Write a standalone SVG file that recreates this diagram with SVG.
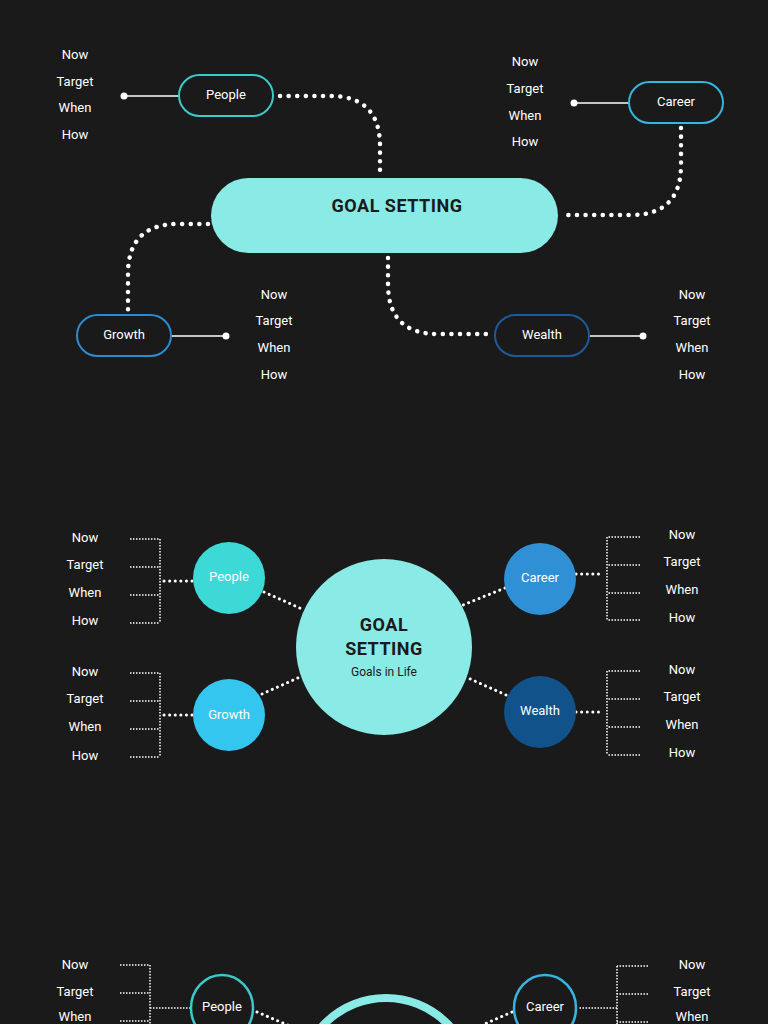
<svg xmlns="http://www.w3.org/2000/svg" width="768" height="1024" viewBox="0 0 768 1024">
<style>
text{font-family:Roboto,"Liberation Sans",sans-serif;fill:#fff;text-anchor:middle;dominant-baseline:middle}
.l{font-size:13px}
.pill{fill:#1a1a1a;stroke-width:2}
.big{stroke:#fff;stroke-width:4.5;stroke-linecap:round;stroke-dasharray:0.1 8.5;fill:none}
.sm{stroke:#fff;stroke-width:1.5;fill:none;stroke-dasharray:1.5 1.5}
.md{stroke:#fff;stroke-width:3;stroke-linecap:round;stroke-dasharray:0.1 5.5;fill:none}
.ln{stroke:#fff;stroke-width:1.5}
.dk{fill:#1a1a1a;font-weight:bold}
</style>
<rect width="768" height="1024" fill="#1a1a1a"/>
<g id="connectors">
<path class="big" d="M280 96 H330 Q380 96 380 146 V174"/>
<path class="big" d="M681 128 V165 Q681 215 631 215 H562"/>
<path class="big" d="M208 224 H178 Q128 224 128 274 V311"/>
<path class="big" d="M388 258 V284 Q388 334 438 334 H490"/>
<line class="ln" x1="124" y1="96" x2="179" y2="96"/><circle cx="124" cy="96" r="3.5" fill="#fff"/>
<line class="ln" x1="574" y1="103" x2="629" y2="103"/><circle cx="574" cy="103" r="3.5" fill="#fff"/>
<line class="ln" x1="171" y1="336" x2="226" y2="336"/><circle cx="226" cy="336" r="3.5" fill="#fff"/>
<line class="ln" x1="589" y1="336" x2="643" y2="336"/><circle cx="643" cy="336" r="3.5" fill="#fff"/>
<path class="md" d="M264 592 L302 609 M505 588 L463 605 M262 694 L300 677 M506 695 L468 678"/>
<path class="md" d="M164 581 H193 M164 715 H193 M576 574 H604 M576 712 H604"/>
<path class="sm" d="M130 539 H160 M130 567 H160 M130 595 H160 M130 623 H160 M160 539 V623"/>
<path class="sm" d="M130 673 H160 M130 701 H160 M130 729 H160 M130 757 H160 M160 673 V757"/>
<path class="sm" d="M640 537 H607 M640 565 H607 M640 593 H607 M640 620 H607 M607 537 V620"/>
<path class="sm" d="M640 671 H607 M640 699 H607 M640 727 H607 M640 755 H607 M607 671 V755"/>
<path class="sm" d="M120 965 H150 M120 993 H150 M120 1021 H150 M150 965 V1024 M150 1008 H190"/>
<path class="sm" d="M648 966 H617 M648 994 H617 M648 1022 H617 M617 966 V1024 M617 1008 H578"/>
<path class="md" d="M257 1012 L290 1026 M512 1012 L480 1026"/>
</g>
<g id="goal1"><rect x="211" y="178" width="347" height="75" rx="37.5" fill="#8aeae6"/><text class="dk" x="397" y="207" font-size="18" letter-spacing="0.5">GOAL SETTING</text></g>
<g id="people1"><rect class="pill" x="179" y="75" width="94" height="41" rx="20.5" stroke="#3cc9c9"/><text class="l" x="226" y="96">People</text></g>
<g id="career1"><rect class="pill" x="629" y="82" width="94" height="41" rx="20.5" stroke="#35b6e0"/><text class="l" x="676" y="103">Career</text></g>
<g id="growth1"><rect class="pill" x="77" y="315" width="94" height="41" rx="20.5" stroke="#2a8bd0"/><text class="l" x="124" y="336">Growth</text></g>
<g id="wealth1"><rect class="pill" x="495" y="315" width="94" height="41" rx="20.5" stroke="#1e5a9a"/><text class="l" x="542" y="336">Wealth</text></g>
<g id="lists1">
<text class="l" x="75" y="56">Now</text><text class="l" x="75" y="83">Target</text><text class="l" x="75" y="109">When</text><text class="l" x="75" y="136">How</text>
<text class="l" x="525" y="63">Now</text><text class="l" x="525" y="90">Target</text><text class="l" x="525" y="117">When</text><text class="l" x="525" y="143">How</text>
<text class="l" x="274" y="296">Now</text><text class="l" x="274" y="322">Target</text><text class="l" x="274" y="349">When</text><text class="l" x="274" y="376">How</text>
<text class="l" x="692" y="296">Now</text><text class="l" x="692" y="322">Target</text><text class="l" x="692" y="349">When</text><text class="l" x="692" y="376">How</text>
</g>
<g id="goal2"><circle cx="384" cy="647" r="88" fill="#8aeae6"/><text class="dk" x="384" y="626" font-size="18" letter-spacing="0.5">GOAL</text><text class="dk" x="384" y="650" font-size="18" letter-spacing="0.5">SETTING</text><text x="384" y="673" font-size="12" style="fill:#1a1a1a">Goals in Life</text></g>
<g id="people2"><circle cx="229" cy="578" r="36" fill="#3dd9d6"/><text class="l" x="229" y="578">People</text></g>
<g id="career2"><circle cx="540" cy="579" r="36" fill="#2f90d6"/><text class="l" x="540" y="579">Career</text></g>
<g id="growth2"><circle cx="229" cy="715" r="36" fill="#35c6ef"/><text class="l" x="229" y="716">Growth</text></g>
<g id="wealth2"><circle cx="540" cy="712" r="36" fill="#12528a"/><text class="l" x="540" y="712">Wealth</text></g>
<g id="lists2">
<text class="l" x="85" y="539">Now</text><text class="l" x="85" y="566">Target</text><text class="l" x="85" y="594">When</text><text class="l" x="85" y="622">How</text>
<text class="l" x="85" y="673">Now</text><text class="l" x="85" y="700">Target</text><text class="l" x="85" y="728">When</text><text class="l" x="85" y="757">How</text>
<text class="l" x="682" y="536">Now</text><text class="l" x="682" y="563">Target</text><text class="l" x="682" y="591">When</text><text class="l" x="682" y="619">How</text>
<text class="l" x="682" y="671">Now</text><text class="l" x="682" y="698">Target</text><text class="l" x="682" y="726">When</text><text class="l" x="682" y="754">How</text>
</g>
<g id="goal3"><circle cx="386" cy="1084" r="86" fill="none" stroke="#8aeae6" stroke-width="8"/></g>
<g id="people3"><ellipse cx="222" cy="1008" rx="31" ry="33" fill="#1a1a1a" stroke="#3cc9c9" stroke-width="2.5"/><text class="l" x="222" y="1008">People</text></g>
<g id="career3"><ellipse cx="545" cy="1008" rx="31" ry="33" fill="#1a1a1a" stroke="#35b6e0" stroke-width="2.5"/><text class="l" x="545" y="1008">Career</text></g>
<g id="lists3">
<text class="l" x="75" y="966">Now</text><text class="l" x="75" y="993">Target</text><text class="l" x="75" y="1018">When</text>
<text class="l" x="692" y="966">Now</text><text class="l" x="692" y="993">Target</text><text class="l" x="692" y="1018">When</text>
</g>
</svg>
